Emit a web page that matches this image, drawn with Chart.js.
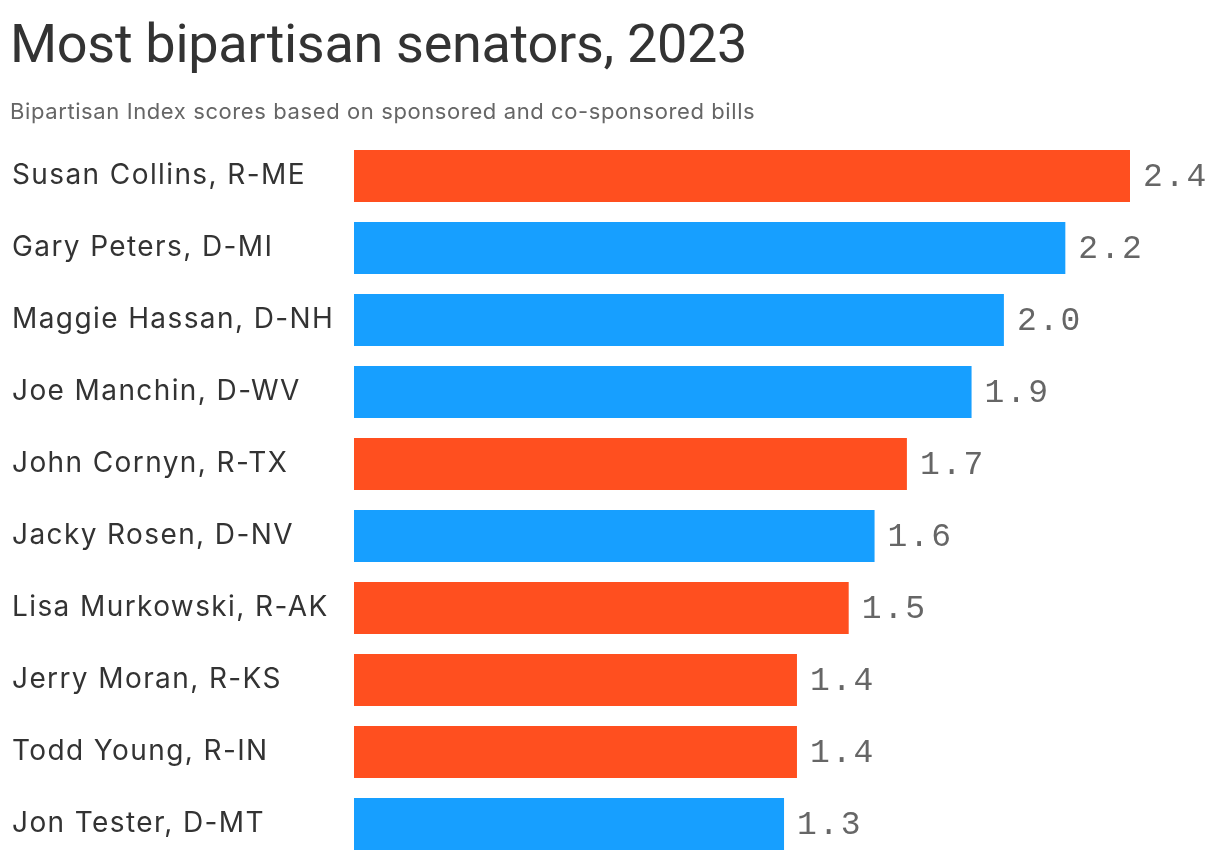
<!DOCTYPE html>
<html>
<head>
<meta charset="utf-8">
<script src="https://cdn.jsdelivr.net/npm/chart.js@4.4.1/dist/chart.umd.min.js"></script>
<style>
  body { margin: 0; background: #fff; }
  #wrap { position: relative; width: 1220px; height: 860px; }
  #title { position: absolute; left: 10px; top: 12px; margin: 0; font: 400 54px Roboto, sans-serif; color: #333; letter-spacing: -0.3px; white-space: nowrap; }
  #subtitle { position: absolute; left: 10px; top: 98px; margin: 0; font: 400 22px Inter, sans-serif; color: #666; letter-spacing: 0.6px; white-space: nowrap; }
  canvas { position: absolute; left: 0; top: 0; }
</style>
</head>
<body>
<div id="wrap">
  <canvas id="chart" width="1220" height="860"></canvas>
  <h1 id="title">Most bipartisan senators, 2023</h1>
  <p id="subtitle">Bipartisan Index scores based on sponsored and co-sponsored bills</p>
</div>
<script>
// Senators and their Bipartisan Index scores
var senators = ['Susan Collins, R-ME', 'Gary Peters, D-MI', 'Maggie Hassan, D-NH', 'Joe Manchin, D-WV',
  'John Cornyn, R-TX', 'Jacky Rosen, D-NV', 'Lisa Murkowski, R-AK', 'Jerry Moran, R-KS',
  'Todd Young, R-IN', 'Jon Tester, D-MT'];
var scores = [2.40, 2.20, 2.01, 1.91, 1.71, 1.61, 1.53, 1.37, 1.37, 1.33];
var parties = ['R', 'D', 'D', 'D', 'R', 'D', 'R', 'R', 'R', 'D'];

var partyColors = { R: '#ff4f1f', D: '#179fff' };

// Wider tracking for the name labels on the y axis
var labelSpacing = {
  id: 'labelSpacing',
  beforeDraw: function(chart) { chart.ctx.letterSpacing = '1.4px'; },
  beforeDatasetsDraw: function(chart) { chart.ctx.letterSpacing = '0px'; }
};

// Draw the score at the end of each bar
var valueLabels = {
  id: 'valueLabels',
  afterDatasetsDraw: function(chart) {
    var ctx = chart.ctx;
    var meta = chart.getDatasetMeta(0);
    ctx.save();
    ctx.font = '33px "Liberation Mono", monospace';
    ctx.letterSpacing = '2px';
    ctx.fillStyle = '#666';
    ctx.textAlign = 'left';
    ctx.textBaseline = 'middle';
    meta.data.forEach(function(bar, i) {
      ctx.fillText(scores[i].toFixed(1), bar.x + 13, bar.y + 1);
    });
    ctx.restore();
  }
};

new Chart(document.getElementById('chart').getContext('2d'), {
  type: 'bar',
  data: {
    labels: senators,
    datasets: [{
      data: scores,
      backgroundColor: parties.map(function(p) { return partyColors[p]; }),
      borderWidth: 0,
      barPercentage: 0.72,
      categoryPercentage: 1
    }]
  },
  options: {
    indexAxis: 'y',
    responsive: false,
    animation: false,
    layout: { padding: { left: 12, right: 90, top: 140, bottom: 0 } },
    plugins: {
      legend: { display: false },
      tooltip: { enabled: false }
    },
    scales: {
      x: {
        display: false,
        min: 0,
        max: 2.4
      },
      y: {
        grid: { display: false },
        border: { display: false },
        afterFit: function(scale) {
          scale.width = 342;
          scale.paddingTop = 0;
          scale.paddingBottom = 0;
        },
        ticks: {
          crossAlign: 'far',
          color: '#333',
          font: { family: 'Inter', size: 28 },
          padding: 0
        }
      }
    }
  },
  plugins: [labelSpacing, valueLabels]
});
</script>
</body>
</html>
